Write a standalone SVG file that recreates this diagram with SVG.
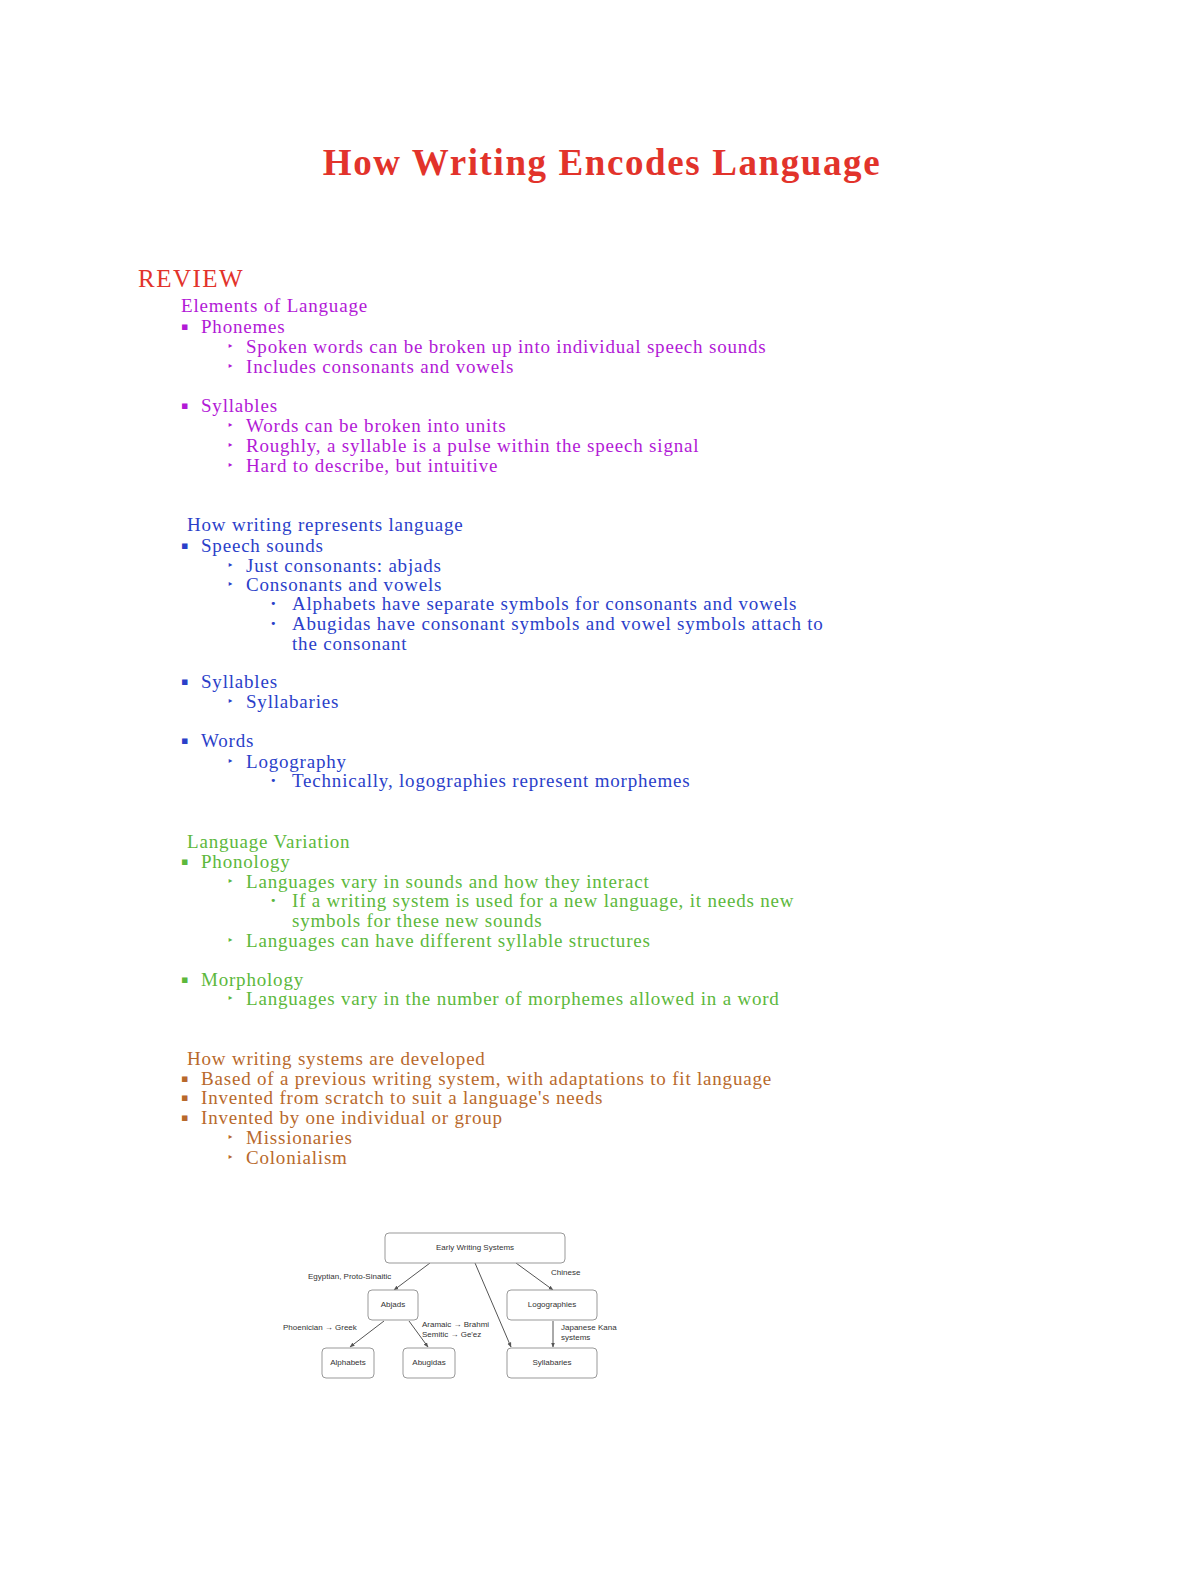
<svg xmlns="http://www.w3.org/2000/svg" width="1200" height="1570" viewBox="0 0 1200 1570">
<defs><marker id="a" viewBox="0 0 10 10" refX="9" refY="5" markerWidth="5" markerHeight="5" orient="auto"><path d="M0,1 L10,5 L0,9 z" fill="#555"/></marker></defs>
<style>
text{font-family:"Liberation Serif",serif;font-size:19px;letter-spacing:0.8px}
.p{fill:#b21ad6}.b{fill:#2b3fc9}.g{fill:#5cb83c}.o{fill:#b8692c}
.s{font-family:"DejaVu Sans",sans-serif;font-size:11px;letter-spacing:0}
.d{font-family:"Liberation Sans",Arial,sans-serif;font-size:8px;fill:#333;letter-spacing:0}
.n rect{fill:#fff;stroke:#999;stroke-width:1}
</style>
<rect width="1200" height="1570" fill="#fff"/>
<text x="602" y="175" text-anchor="middle" style="font-size:37px;font-weight:bold;fill:#e2332b;letter-spacing:1.6px">How Writing Encodes Language</text>
<text x="138" y="287" style="font-size:25px;fill:#e2332b;letter-spacing:1.5px">REVIEW</text>
<g class="p">
<text x="181" y="312">Elements of Language</text>
<text class="s" x="181" y="330">▪</text><text x="201" y="333">Phonemes</text>
<text class="s" x="227" y="350">‣</text><text x="246" y="353">Spoken words can be broken up into individual speech sounds</text>
<text class="s" x="227" y="370">‣</text><text x="246" y="373">Includes consonants and vowels</text>
<text class="s" x="181" y="409">▪</text><text x="201" y="412">Syllables</text>
<text class="s" x="227" y="429">‣</text><text x="246" y="432">Words can be broken into units</text>
<text class="s" x="227" y="449">‣</text><text x="246" y="452">Roughly, a syllable is a pulse within the speech signal</text>
<text class="s" x="227" y="469">‣</text><text x="246" y="472">Hard to describe, but intuitive</text>
</g>
<g class="b">
<text x="187" y="531">How writing represents language</text>
<text class="s" x="181" y="549">▪</text><text x="201" y="552">Speech sounds</text>
<text class="s" x="227" y="569">‣</text><text x="246" y="572">Just consonants: abjads</text>
<text class="s" x="227" y="588">‣</text><text x="246" y="591">Consonants and vowels</text>
<text class="s" x="270" y="607">•</text><text x="292" y="610">Alphabets have separate symbols for consonants and vowels</text>
<text class="s" x="270" y="627">•</text><text x="292" y="630">Abugidas have consonant symbols and vowel symbols attach to</text>
<text x="292" y="650">the consonant</text>
<text class="s" x="181" y="685">▪</text><text x="201" y="688">Syllables</text>
<text class="s" x="227" y="705">‣</text><text x="246" y="708">Syllabaries</text>
<text class="s" x="181" y="744">▪</text><text x="201" y="747">Words</text>
<text class="s" x="227" y="765">‣</text><text x="246" y="768">Logography</text>
<text class="s" x="270" y="784">•</text><text x="292" y="787">Technically, logographies  represent morphemes</text>
</g>
<g class="g">
<text x="187" y="848">Language Variation</text>
<text class="s" x="181" y="865">▪</text><text x="201" y="868">Phonology</text>
<text class="s" x="227" y="885">‣</text><text x="246" y="888">Languages vary in sounds and how they interact</text>
<text class="s" x="270" y="904">•</text><text x="292" y="907">If a writing system is used for a new language, it needs new</text>
<text x="292" y="927">symbols for these new sounds</text>
<text class="s" x="227" y="944">‣</text><text x="246" y="947">Languages can have different syllable structures</text>
<text class="s" x="181" y="983">▪</text><text x="201" y="986">Morphology</text>
<text class="s" x="227" y="1002">‣</text><text x="246" y="1005">Languages vary in the number of morphemes allowed in a word</text>
</g>
<g class="o">
<text x="187" y="1065">How writing systems are developed</text>
<text class="s" x="181" y="1082">▪</text><text x="201" y="1085">Based of a previous writing system, with adaptations to fit language</text>
<text class="s" x="181" y="1101">▪</text><text x="201" y="1104">Invented from scratch to suit a language's needs</text>
<text class="s" x="181" y="1121">▪</text><text x="201" y="1124">Invented by one individual or group</text>
<text class="s" x="227" y="1141">‣</text><text x="246" y="1144">Missionaries</text>
<text class="s" x="227" y="1161">‣</text><text x="246" y="1164">Colonialism</text>
</g>
<g id="connectors" stroke="#555" stroke-width="1" marker-end="url(#a)">
<line x1="430" y1="1263" x2="394" y2="1290"/>
<line x1="516" y1="1263" x2="553" y2="1290"/>
<line x1="475" y1="1263" x2="511" y2="1347"/>
<line x1="384" y1="1321" x2="350" y2="1347"/>
<line x1="409" y1="1321" x2="428" y2="1347"/>
<line x1="553" y1="1321" x2="553" y2="1347"/>
</g>
<text class="d" x="308" y="1279">Egyptian, Proto-Sinaitic</text>
<text class="d" x="551" y="1275">Chinese</text>
<text class="d" x="283" y="1330">Phoenician → Greek</text>
<text class="d" x="422" y="1327">Aramaic → Brahmi</text>
<text class="d" x="422" y="1337">Semitic → Ge'ez</text>
<text class="d" x="561" y="1330">Japanese Kana</text>
<text class="d" x="561" y="1340">systems</text>
<g id="n1" class="n"><rect x="385" y="1233" width="180" height="30" rx="4"/><text class="d" x="475" y="1250" text-anchor="middle">Early Writing Systems</text></g>
<g id="n2" class="n"><rect x="368" y="1290" width="50" height="30" rx="4"/><text class="d" x="393" y="1307" text-anchor="middle">Abjads</text></g>
<g id="n3" class="n"><rect x="507" y="1290" width="90" height="30" rx="4"/><text class="d" x="552" y="1307" text-anchor="middle">Logographies</text></g>
<g id="n4" class="n"><rect x="322" y="1348" width="52" height="30" rx="4"/><text class="d" x="348" y="1365" text-anchor="middle">Alphabets</text></g>
<g id="n5" class="n"><rect x="403" y="1348" width="52" height="30" rx="4"/><text class="d" x="429" y="1365" text-anchor="middle">Abugidas</text></g>
<g id="n6" class="n"><rect x="507" y="1348" width="90" height="30" rx="4"/><text class="d" x="552" y="1365" text-anchor="middle">Syllabaries</text></g>
</svg>
